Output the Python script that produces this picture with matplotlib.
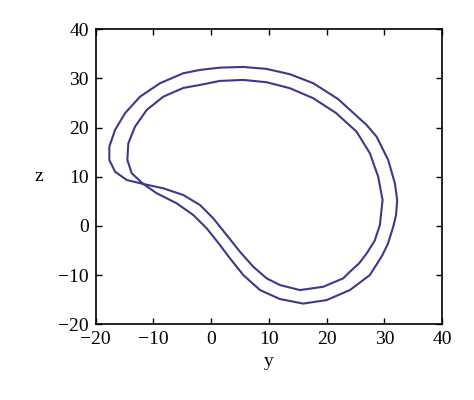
import numpy as np
import matplotlib.pyplot as plt

plt.rcParams['font.family'] = ['Liberation Serif', 'DejaVu Serif']

# trajectory in the y-z plane (one closed period-2 orbit)
# first lap: inner loop, second lap: outer loop
y_vals = [-11.76, -8.30, -4.84, -1.95, 0.35, 2.67, 4.97, 7.28, 9.59, 11.90,
          15.36, 19.39, 22.85, 24.0, 25.6, 26.9, 28.3, 29.2, 29.67, 28.91,
          27.47, 25.17, 21.59, 17.66, 13.63, 9.59, 5.55, 1.51, -1.95, -4.84,
          -8.30, -11.17, -13.20, -14.36, -14.53, -13.77,
          -11.76, -9.44, -5.98, -3.11, -0.79, 1.51, 3.24, 5.55, 8.44, 11.90,
          15.93, 19.98, 24.01, 27.47, 29.6, 30.6, 31.5, 32.0, 32.20, 31.80,
          30.64, 28.63, 26.90, 21.94, 17.66, 13.63, 9.59, 5.55, 1.51, -1.95,
          -4.84, -8.87, -12.33, -14.93, -16.66, -17.65, -17.65, -16.66,
          -14.63, -11.76]
z_vals = [8.54, 7.66, 6.30, 4.27, 1.56, -1.84, -5.23, -8.28, -10.64, -12.00,
          -13.02, -12.35, -10.64, -9.3, -7.6, -5.6, -3.0, 0.2, 5.28, 10.02,
          14.78, 19.17, 22.98, 25.97, 28.00, 29.22, 29.69, 29.49, 28.67, 28.06,
          26.29, 23.59, 20.19, 16.81, 13.42, 10.71,
          8.54, 6.65, 4.61, 2.23, -0.47, -3.87, -6.57, -9.97, -13.02, -14.85,
          -15.77, -15.06, -13.02, -9.97, -6.0, -3.6, -0.2, 2.2, 5.28, 8.68,
          13.42, 18.16, 20.54, 25.82, 29.02, 30.85, 31.93, 32.33, 32.19, 31.72,
          31.05, 29.02, 26.29, 22.92, 19.52, 16.12, 13.42, 11.04,
          9.35, 8.54]

ticks = [-20, -10, 0, 10, 20, 30, 40]

fig = plt.figure(figsize=(4.74, 4.0), dpi=100)
ax = fig.add_axes([0.202, 0.189, 0.731, 0.738])

ax.plot(y_vals, z_vals, color='#3b3a8a', lw=1.5, solid_joinstyle='round')

ax.set_xlim(-20, 40)
ax.set_ylim(-20, 40)
ax.set_xticks(ticks)
ax.set_yticks(ticks)
ax.tick_params(direction='in', length=4, width=1, top=True, right=True,
               labelsize=14, pad=5)
for s in ax.spines.values():
    s.set_linewidth(1.2)

ax.set_xlabel('y', fontsize=14, labelpad=3)
ax.set_ylabel('z', fontsize=14, rotation=0, labelpad=14, va='center')

fig.savefig('out.png', dpi=100)
